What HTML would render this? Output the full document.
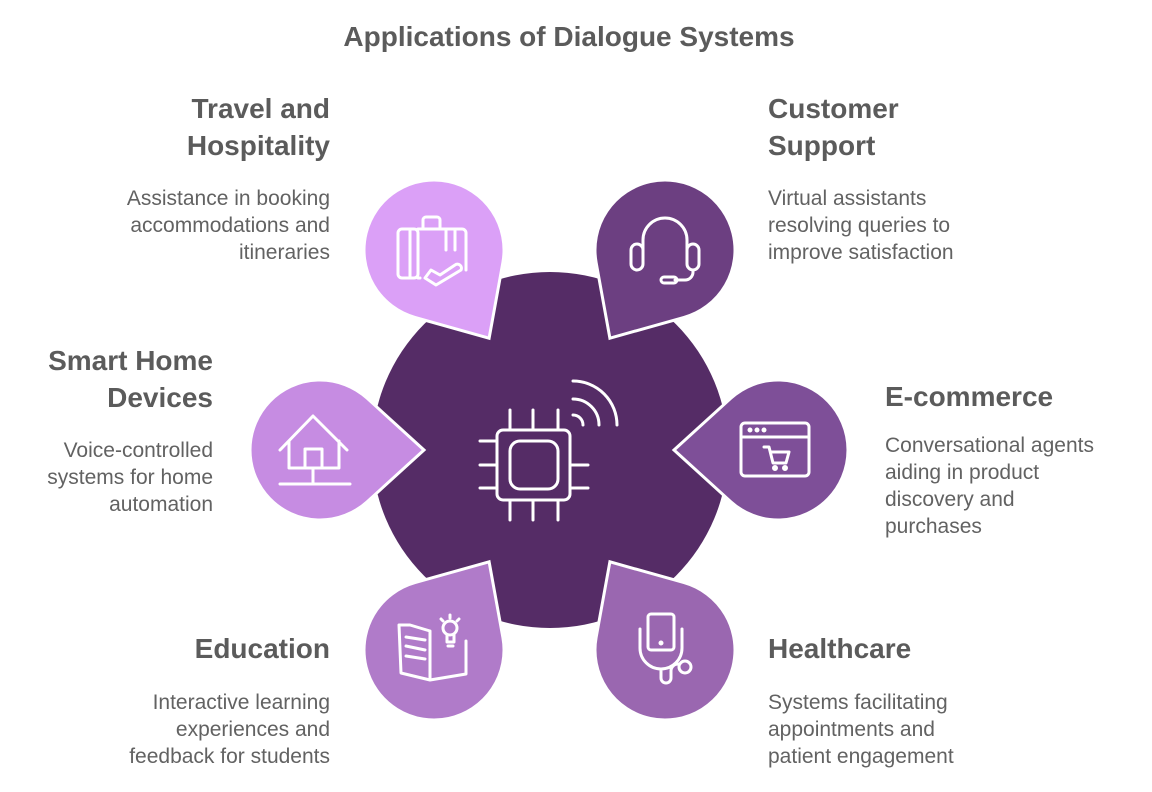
<!DOCTYPE html>
<html><head><meta charset="utf-8"><style>
body{margin:0;width:1152px;height:792px;background:#fff;overflow:hidden;font-family:"Liberation Sans",sans-serif;}
.t{position:absolute;font-weight:bold;font-size:28px;line-height:37px;color:#5b5b5b;}
.d{position:absolute;font-size:21px;line-height:27px;color:#626262;}
.r{text-align:right}
</style></head><body>
<svg width="1152" height="792" style="position:absolute;left:0;top:0">
<circle cx="550" cy="450" r="178" fill="#552c66"/>
<defs><path id="tp" d="M104,0 L47.1,-51.8 A70,70 0 1 0 47.1,51.8 Z" stroke="#fff" stroke-width="3" stroke-linejoin="miter"/></defs>
<use href="#tp" transform="translate(434,250) rotate(58)" fill="#dba0f7"/>
<use href="#tp" transform="translate(665,250) rotate(122)" fill="#6c3f81"/>
<use href="#tp" transform="translate(778,450) rotate(180)" fill="#7e4f98"/>
<use href="#tp" transform="translate(665,650) rotate(238)" fill="#9a67b0"/>
<use href="#tp" transform="translate(434,650) rotate(302)" fill="#b07bc9"/>
<use href="#tp" transform="translate(320,450) rotate(0)" fill="#c68ce2"/>
<g fill="none" stroke="#fff" stroke-width="3" stroke-linecap="round" stroke-linejoin="round">
<rect x="497" y="430" width="73" height="70" rx="6"/>
<rect x="510" y="441" width="48" height="48" rx="10"/>
<path d="M510,410V430M533,410V430M558,410V430M510,500V520M533,500V520M558,500V520M480,441H497M480,465H497M480,488H497M570,465H588M570,488H588"/>
<path d="M573,415A10,10 0 0 1 583,425M573,399A26,26 0 0 1 599,425M573,381A44,44 0 0 1 617,425"/>
<rect x="398" y="229" width="20" height="49" rx="4"/>
<path d="M418,229H462a4,4 0 0 1 4,4V270M410,229V278M455,229V250M446,229V250M423,229V220a3,3 0 0 1 3,-3H437a3,3 0 0 1 3,3V229M418,278H420"/>
<path d="M425,278L431,270L440,275L455,265a4,4 0 0 1 6,5L436,285Z"/>
<path d="M643,260V240a22,22 0 0 1 44,0V260"/>
<rect x="631" y="244" width="12" height="26" rx="6"/>
<rect x="687" y="244" width="12" height="26" rx="6"/>
<path d="M693,270V272a8,8 0 0 1 -8,8H675"/>
<rect x="661" y="277" width="16" height="6" rx="3"/>
<rect x="741" y="423" width="68" height="53" rx="4"/>
<path d="M741,437H809"/>
<circle cx="750" cy="430" r="1" fill="#fff"/><circle cx="757" cy="430" r="1" fill="#fff"/><circle cx="764" cy="430" r="1" fill="#fff"/>
<path d="M764,447H769L773,463H786L789,452H771"/>
<circle cx="775" cy="468" r="1.5"/><circle cx="785" cy="468" r="1.5"/>
<path d="M280,450L313,416L347,450M289,441V468H339V441M305,468V449H322V468M313,468V484M280,484H350"/>
<path d="M399,625H410L430,631V680L401,673Z M430,631V680L466,674V641"/>
<path d="M406,637L425,640M406,646L425,650M406,656L425,659"/>
<circle cx="450" cy="628" r="7"/>
<path d="M447,635V642H454V635M448,646H453M450,615V618M441,619L443,621M459,619L457,621"/>
<rect x="648" y="614" width="26" height="36" rx="3"/>
<circle cx="661" cy="643" r="1" fill="#fff"/>
<path d="M640,629V648a21,21 0 0 0 42,0V629M661,669V678a5,5 0 0 0 10,0V671a7,7 0 0 1 7,-7"/>
<circle cx="685" cy="667" r="6"/>
</g>
</svg>
<div class="t" style="left:0;width:1138px;top:18px;text-align:center;font-size:28px">Applications of Dialogue Systems</div>
<div class="t r" style="right:822px;top:90px">Travel and<br>Hospitality</div>
<div class="d r" style="right:822px;top:185px">Assistance in booking<br>accommodations and<br>itineraries</div>
<div class="t" style="left:768px;top:90px">Customer<br>Support</div>
<div class="d" style="left:768px;top:185px">Virtual assistants<br>resolving queries to<br>improve satisfaction</div>
<div class="t r" style="right:939px;top:342px">Smart Home<br>Devices</div>
<div class="d r" style="right:939px;top:437px">Voice-controlled<br>systems for home<br>automation</div>
<div class="t" style="left:885px;top:378px">E-commerce</div>
<div class="d" style="left:885px;top:432px">Conversational agents<br>aiding in product<br>discovery and<br>purchases</div>
<div class="t r" style="right:822px;top:630px">Education</div>
<div class="d r" style="right:822px;top:689px">Interactive learning<br>experiences and<br>feedback for students</div>
<div class="t" style="left:768px;top:630px">Healthcare</div>
<div class="d" style="left:768px;top:689px">Systems facilitating<br>appointments and<br>patient engagement</div>
</body></html>
